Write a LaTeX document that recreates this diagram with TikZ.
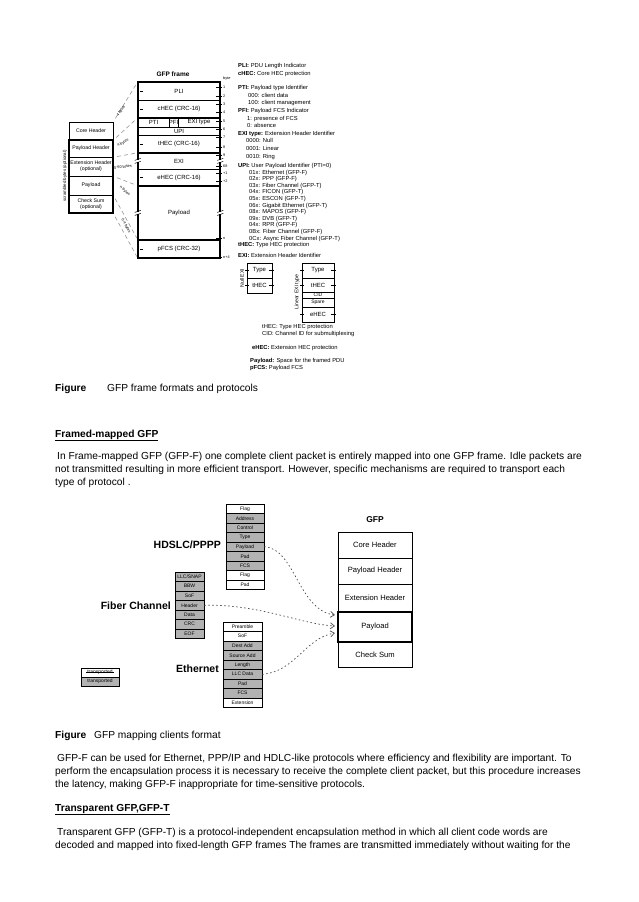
\documentclass[tikz,border=0pt]{standalone}
\usepackage{fontspec}
\setmainfont{Liberation Sans}
\usetikzlibrary{positioning,calc,arrows.meta}
\definecolor{cellgray}{RGB}{178,178,178}
\definecolor{guidegray}{RGB}{150,150,150}

\begin{document}
\begin{tikzpicture}[x=1pt, y=-1pt]
\tikzstyle{body} = [anchor=base west, inner sep=0, font=\fontsize{10.2}{12}\selectfont]
\tikzstyle{frow} = [draw, line width=0.5pt, minimum width=82pt, inner sep=0, font=\fontsize{6}{7}\selectfont]
\tikzstyle{heavy} = [line width=1.6pt]
\tikzstyle{lrow} = [draw, line width=0.5pt, minimum width=44pt, inner sep=0, align=center, font=\fontsize{5.2}{5.8}\selectfont]
\tikzstyle{guide} = [guidegray, dash pattern=on 4pt off 3pt, line width=0.6pt, shorten <=4pt, shorten >=2pt]
\tikzstyle{bytes} = [inner sep=0, font=\fontsize{3.8}{4}\selectfont]
\tikzstyle{leg} = [anchor=north west, inner sep=0, align=left]
\tikzstyle{cell} = [draw, line width=0.5pt, minimum height=9.5pt, inner sep=0, font=\fontsize{5}{6}\selectfont]
\tikzstyle{gfp} = [draw, line width=0.5pt, minimum width=74pt, inner sep=0, font=\fontsize{7.6}{9}\selectfont]
\tikzstyle{proto} = [anchor=east, inner sep=0, font=\fontsize{10.5}{12}\selectfont\bfseries]
\tikzstyle{map} = [gray!60!black, line width=0.7pt, dash pattern=on 1.5pt off 2.5pt, -{Straight Barb[length=4pt, width=6pt]}]

\useasboundingbox (0,0) rectangle (638,902);
\fill[white] (0,0) rectangle (638,902);

% GFP frame
\node[font=\fontsize{6.5}{7}\selectfont\bfseries] (ftitle) at (173,74) {GFP frame};
\node[frow, minimum height=18pt] (pli) at (179,91) {PLI};
\node[frow, minimum height=18pt] (chec) at (179,109) {cHEC (CRC-16)};
\node[frow, minimum width=31pt, minimum height=9pt] (pti) at (153.5,122.5) {PTI};
\node[frow, minimum width=9pt, minimum height=9pt] (pfi) at (173.5,122.5) {PFI};
\node[frow, minimum width=42pt, minimum height=9pt] (exitype) at (199,122.5) {EXI type};
\node[frow, minimum height=8pt] (upi) at (179,131) {UPI};
\node[frow, minimum height=18pt] (thec) at (179,144) {tHEC (CRC-16)};
\node[frow, minimum height=16pt] (exi) at (179,161) {EXI};
\node[frow, minimum height=17pt] (ehec) at (179,177.5) {eHEC (CRC-16)};
\node[frow, minimum height=54pt] (fpay) at (179,213) {Payload};
\node[frow, minimum height=18pt] (pfcs) at (179,249) {pFCS (CRC-32)};
\draw[heavy] (pli.north west) rectangle (chec.south east);
\draw[heavy] (pti.north west) rectangle (thec.south east);
\draw[heavy] (exi.north west) rectangle (ehec.south east);
\draw[heavy] (fpay.north west) rectangle (fpay.south east);
\draw[heavy] (pfcs.north west) rectangle (pfcs.south east);
\foreach \r in {pli,chec,thec,ehec,pfcs}
  \draw[line width=0.4pt] ($(\r.west)+(2,0)$) -- +(3,0);
\foreach \p in {exi.west,exi.east,fpay.west,fpay.east} {
  \fill[white] ($(\p)+(-3,-1.2)$) rectangle ($(\p)+(3,1.2)$);
  \draw[line width=0.5pt] ($(\p)+(-3,-0.6)$) -- +(6,-2);
  \draw[line width=0.5pt] ($(\p)+(-3,2.4)$) -- +(6,-2);
}

% byte numbers
\foreach \t/\y [count=\i] in {byte/79,1/87,2/96,3/104,4/112,5/121,6/129,7/137,8/147,9/155,68/166,+1/173,+2/181,n/238,n+4/257}
  \node[bytes, anchor=west] (b\i) at (223,\y) {\t};
\foreach \i in {2,...,15}
  \draw[line width=0.4pt] ($(b\i.west)+(-7,0)$) -- ($(b\i.west)+(-1,0)$);

% client side of the frame
\node[lrow, minimum height=18pt] (core) at (91,131) {Core Header};
\node[lrow, minimum height=17pt] (plhdr) at (91,148.5) {Payload Header};
\node[lrow, minimum height=19pt] (exthdr) at (91,166.5) {Extension Header\\(optional)};
\node[lrow, minimum height=19pt] (lpay) at (91,185.5) {Payload};
\node[lrow, minimum height=18pt] (csum) at (91,204) {Check Sum\\(optional)};
\draw[heavy] (plhdr.north west) rectangle (csum.south east);
\node[bytes, rotate=90, font=\fontsize{4.4}{5}\selectfont] (scr) at (65,176) {scrambled bytes (optional)};

\draw[guide] (core.north east) -- (pli.north west);
\draw[guide] (core.south east) -- (pti.north west);
\draw[guide] (plhdr.south east) -- (exi.north west);
\draw[guide] (exthdr.south east) -- (fpay.north west);
\draw[guide] (lpay.south east) -- (pfcs.north west);
\draw[guide] (csum.south east) -- (pfcs.south west);
\node[bytes, rotate=55] (n1) at (121,111) {4 bytes};
\node[bytes, rotate=30] (n2) at (123,143) {4 bytes};
\node[bytes, rotate=8] (n3) at (123,167) {0-60 bytes};
\node[bytes, rotate=-40] (n4) at (125,191) {n bytes};
\node[bytes, rotate=-62] (n5) at (126,226) {0-4 bytes};

% legend
\node[leg, font=\fontsize{5.8}{7.6}\selectfont] (lg1) at (238,63) {\textbf{PLI:} PDU Length Indicator\\\textbf{cHEC:} Core HEC protection};
\node[leg, font=\fontsize{5.8}{7.65}\selectfont] (lg2) at (238,85) {\textbf{PTI:} Payload type Identifier\\\hspace*{10pt}000: client data\\\hspace*{10pt}100: client management\\
  \textbf{PFI:} Payload FCS Indicator\\\hspace*{9pt}1: presence of FCS\\\hspace*{9pt}0: absence\\
  \textbf{EXI type:} Extension Header Identifier\\\hspace*{8pt}0000: Null\\\hspace*{8pt}0001: Linear\\\hspace*{8pt}0010: Ring};
\node[leg, font=\fontsize{5.8}{6.6}\selectfont] (lg3) at (238,163) {\textbf{UPI:} User Payload Identifier (PTI=0)\\
  \hspace*{11pt}01x: Ethernet (GFP-F)\\\hspace*{11pt}02x: PPP (GFP-F)\\\hspace*{11pt}03x: Fiber Channel (GFP-T)\\
  \hspace*{11pt}04x: FICON (GFP-T)\\\hspace*{11pt}05x: ESCON (GFP-T)\\\hspace*{11pt}06x: Gigabit Ethernet (GFP-T)\\
  \hspace*{11pt}08x: MAPOS (GFP-F)\\\hspace*{11pt}09x: DVB (GFP-T)\\\hspace*{11pt}04x: RPR (GFP-F)\\
  \hspace*{11pt}0Bx: Fiber Channel (GFP-F)\\\hspace*{11pt}0Cx: Async Fiber Channel (GFP-T)\\
  \textbf{tHEC:} Type HEC protection};
\node[leg, font=\fontsize{5.8}{7}\selectfont] (lg4) at (238,253) {\textbf{EXI:} Extension Header Identifier};

% extension headers
\node[frow, minimum width=25pt, minimum height=15pt] (ntype) at (259.5,270.5) {Type};
\node[frow, minimum width=25pt, minimum height=15pt] (nthec) at (259.5,285.5) {tHEC};
\node[bytes, rotate=90, font=\fontsize{5.2}{6}\selectfont] (nulllab) at (242,278) {Null EXI};
\node[frow, minimum width=32pt, minimum height=15pt] (ltype) at (318,270.5) {Type};
\node[frow, minimum width=32pt, minimum height=14pt] (lthec) at (318,285) {tHEC};
\node[frow, minimum width=32pt, minimum height=6pt, font=\fontsize{5}{5}\selectfont] (lcid) at (318,295) {CID};
\node[frow, minimum width=32pt, minimum height=9pt, font=\fontsize{5}{5}\selectfont] (lspare) at (318,302.5) {Spare};
\node[frow, minimum width=32pt, minimum height=15pt] (lehec) at (318,314.5) {eHEC};
\node[bytes, rotate=90, font=\fontsize{5.2}{6}\selectfont] (linlab) at (297,292) {Linear EXI type};
\foreach \r in {ntype,nthec,ltype,lthec,lehec} {
  \draw[line width=0.4pt] ($(\r.west)+(-1.5,0)$) -- +(4,0);
  \draw[line width=0.4pt] ($(\r.east)+(-3.5,0)$) -- +(5,0);
}
\node[leg, font=\fontsize{5.8}{6.6}\selectfont] (lg5) at (262,324) {tHEC: Type HEC protection\\CID: Channel ID for submultiplexing};
\node[leg, font=\fontsize{5.8}{7}\selectfont] (lg6) at (252,345) {\textbf{eHEC:} Extension HEC protection};
\node[leg, font=\fontsize{5.8}{6.8}\selectfont] (lg7) at (250,358) {\textbf{Payload:} Space for the framed PDU\\\textbf{pFCS:} Payload FCS};

% caption and text
\node[body, font=\fontsize{10.2}{12}\selectfont\bfseries] (cap1a) at (55,391) {Figure};
\node[body] (cap1b) at (107,391) {GFP frame formats and protocols};
\node[body, font=\fontsize{10.2}{12}\selectfont\bfseries] (head1) at (55,437) {\underline{Framed-mapped GFP}};
\node[body] (p1a) at (57,459) {In Frame-mapped GFP (GFP-F) one complete client packet is entirely mapped into one GFP frame. Idle packets are};
\node[body] (p1b) at (55,472) {not transmitted resulting in more efficient transport. However, specific mechanisms are required to transport each};
\node[body] (p1c) at (55,485) {type of protocol .};

% mapping of clients
\foreach \t/\c [count=\i] in {Flag/white,Address/cellgray,Control/cellgray,Type/cellgray,Payload/cellgray,Pad/cellgray,FCS/cellgray,Flag/white,Pad/white}
  \node[cell, fill=\c, minimum width=38pt] (hd\i) at (245,499.25+9.5*\i) {\t};
\foreach \t [count=\i] in {LLC/SNAP,BBW,SoF,Header,Data,CRC,EOF}
  \node[cell, fill=cellgray, minimum width=29pt] (fc\i) at (189.5,567.25+9.5*\i) {\t};
\foreach \t/\c [count=\i] in {Preamble/white,SoF/white,Dest Add/cellgray,Source Add/cellgray,Length/cellgray,LLC Data/cellgray,Pad/cellgray,FCS/cellgray,Extension/white}
  \node[cell, fill=\c, minimum width=39pt] (eth\i) at (242.5,617.25+9.5*\i) {\t};
\node[proto] (hdlab) at (221,545) {HDSLC/PPPP};
\node[proto] (fclab) at (171,606) {Fiber Channel};
\node[proto] (ethlab) at (219,669) {Ethernet};

\node[font=\fontsize{8.5}{10}\selectfont\bfseries] (gfptitle) at (375,520) {GFP};
\node[gfp, minimum height=26pt] (gcore) at (375,545) {Core Header};
\node[gfp, minimum height=26pt] (gplh) at (375,571) {Payload Header};
\node[gfp, minimum height=28pt] (gexth) at (375,598) {Extension Header};
\node[gfp, minimum height=25pt] (gsum) at (375,654.5) {Check Sum};
\node[gfp, minimum height=30pt, line width=2.2pt] (gpay) at (375,627) {Payload};

\draw[map] (hd5.east) .. controls (295,548) and (298,610) .. ($(gpay.west)+(-2,-12)$);
\draw[map] (fc4.east) .. controls (260,604) and (300,624) .. ($(gpay.west)+(-2,-1)$);
\draw[map] (eth6.east) .. controls (295,672) and (305,638) .. ($(gpay.west)+(-2,6)$);

\node[cell, fill=white, minimum width=38pt, minimum height=9pt] (keep1) at (100,672.5) {transported};
\draw[line width=0.5pt] ($(keep1.center)+(-14,0)$) -- ($(keep1.center)+(14,0)$);
\node[cell, fill=cellgray, minimum width=38pt, minimum height=9pt] (keep2) at (100,681.5) {transported};

\node[body, font=\fontsize{10.2}{12}\selectfont\bfseries] (cap2a) at (55,738) {Figure};
\node[body] (cap2b) at (94,738) {GFP mapping clients format};
\node[body] (p2a) at (57,761) {GFP-F can be used for Ethernet, PPP/IP and HDLC-like protocols where efficiency and flexibility are important. To};
\node[body] (p2b) at (55,774) {perform the encapsulation process it is necessary to receive the complete client packet, but this procedure increases};
\node[body] (p2c) at (55,787) {the latency, making GFP-F inappropriate for time-sensitive protocols.};
\node[body, font=\fontsize{10.2}{12}\selectfont\bfseries] (head2) at (55,811) {\underline{Transparent GFP,GFP-T}};
\node[body] (p3a) at (57,835) {Transparent GFP (GFP-T) is a protocol-independent encapsulation method in which all client code words are};
\node[body] (p3b) at (55,848) {decoded and mapped into fixed-length GFP frames The frames are transmitted immediately without waiting for the};
\end{tikzpicture}
\end{document}
